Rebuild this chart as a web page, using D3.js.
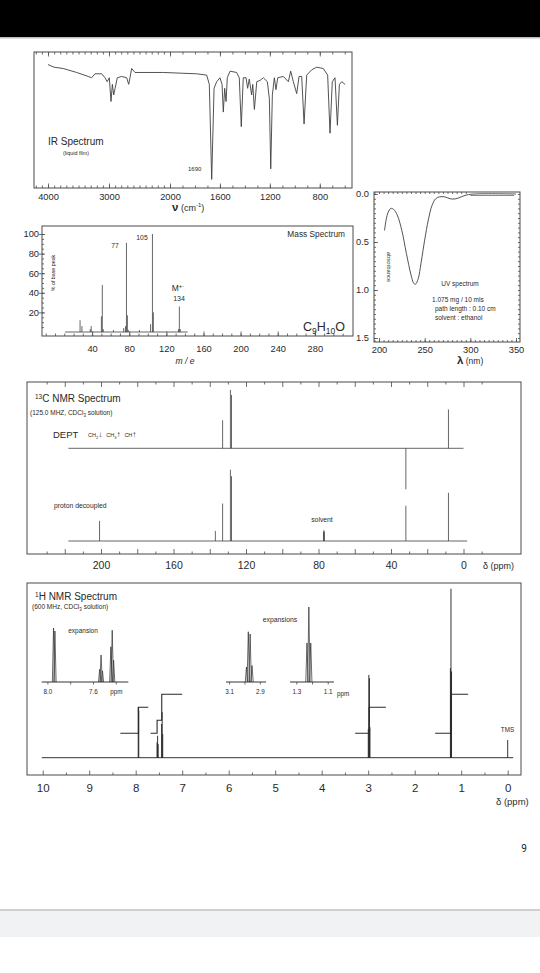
<!DOCTYPE html>
<html lang="en">
<head>
<meta charset="utf-8">
<title>Spectra problem 9</title>
<script src="https://cdnjs.cloudflare.com/ajax/libs/d3/7.8.5/d3.min.js"></script>
<style>
  body { margin: 0; background: #fff; }
  svg { display: block; font-family: "Liberation Sans", Arial, sans-serif; }
  .frame { fill: none; stroke: #4a4a4a; stroke-width: 1; }
  .trace { fill: none; stroke: #404040; stroke-width: 0.9; }
  .peak { stroke: #404040; stroke-width: 0.8; }
  .hpeak { stroke: #1e1e1e; stroke-width: 0.9; }
  .integral { fill: none; stroke: #2a2a2a; stroke-width: 1.1; }
  text { fill: #2a2a2a; }
</style>
</head>
<body>
<svg id="page" width="540" height="973"></svg>
<script>

// IR (liquid film): wavenumber cm-1 / transmittance %
var irWavenumber = [4000, 3900, 3750, 3530, 3340, 3285, 3230, 3120, 3065, 3030, 2995, 2967, 2945, 2923, 2900, 2864, 2792, 2710, 2677, 2656,
                    2628, 2574, 2110, 1786, 1706, 1685, 1666, 1647, 1626, 1600, 1583, 1573, 1562, 1551, 1541, 1519, 1466, 1445, 1429, 1413,
                    1391, 1378, 1365, 1346, 1337, 1324, 1305, 1279, 1252, 1220, 1204, 1193, 1180, 1164, 1151, 1137, 1092, 1052, 1033, 1012,
                    985, 966, 945, 926, 905, 865, 825, 772, 737, 718, 700, 678, 659, 643, 624, 597];
var irTransmittance = [92, 90, 89, 86, 83, 82, 85, 85, 82, 79, 82, 64, 77, 69, 74, 82, 83, 82, 77, 82,
                       89, 86, 86, 85, 84, 77, 5, 74, 79, 82, 77, 56, 74, 64, 82, 87, 86, 82, 45, 82,
                       82, 74, 81, 69, 77, 58, 79, 80, 82, 79, 66, 13, 69, 82, 73, 82, 83, 79, 87, 79,
                       70, 83, 83, 47, 84, 88, 90, 89, 84, 40, 79, 82, 46, 77, 79, 77];
var irTicks = [4000, 3000, 2000, 1600, 1200, 800];

// mass spectrum: m/e / % of base peak
var msMass      = [27, 29, 38, 39, 50, 51, 52, 63, 74, 76, 77, 78, 79, 91, 103, 105, 106, 133, 134, 135];
var msIntensity = [12, 6, 3, 6, 16, 48, 3, 2, 4, 6, 91, 17, 2, 2, 8, 100, 20, 3, 26, 3];
var msTicks = [40, 80, 120, 160, 200, 240, 280];
var msYTicks = [20, 40, 60, 80, 100];

// UV spectrum: wavelength nm / absorbance
var uvWavelength = [206, 208, 210, 213, 216, 220, 225, 230, 235, 238, 240, 243, 246, 250, 254, 258, 262, 266, 272, 278, 284, 290, 296, 305, 350];
var uvAbsorbance = [0.38, 0.26, 0.19, 0.15, 0.16, 0.22, 0.38, 0.62, 0.84, 0.93, 0.94, 0.88, 0.72, 0.48, 0.27, 0.12, 0.05, 0.03, 0.03, 0.05, 0.05, 0.03, 0.01, 0.0, 0.0];
var uvXTicks = [200, 250, 300, 350];
var uvYTicks = [0, 0.5, 1.0, 1.5];

// 13C NMR: shift ppm, proton decoupled and DEPT heights
var cShift     = [200.8, 136.9, 132.9, 128.6, 128.0, 31.8, 8.3];
var cDecoupled = [28, 14, 52, 99, 90, 49, 67];
var cDept      = [0, 0, 39, 81, 74, -57, 54];
var cSolventShift = [77.25, 77.0, 76.75];
var cSolventHeight = [13, 15, 13];
var cTicks = [200, 160, 120, 80, 40, 0];

// 1H NMR: line positions ppm / heights
var hShift     = [7.946, 7.934, 7.541, 7.529, 7.517, 7.443, 7.431, 7.419, 2.998, 2.986, 2.974, 2.962, 1.232, 1.220, 1.208, 0.0];
var hIntensity = [30, 28, 9, 13, 8, 20, 27, 14, 17, 49, 47, 18, 53, 100, 51, 10.5];
var hTicks = [10, 9, 8, 7, 6, 5, 4, 3, 2, 1, 0];
// integration: left end, right end, steps [ppm, protons]
var hIntLeft  = [8.33, 7.68, 3.28, 1.56];
var hIntRight = [7.73, 7.00, 2.62, 0.85];
var hIntSteps = [[[7.94, 2]], [[7.54, 1], [7.44, 2]], [[2.98, 2]], [[1.22, 3]]];

// expansions
var expArShift  = [7.946, 7.934, 7.541, 7.529, 7.517, 7.443, 7.431, 7.419];
var expArInt    = [72, 68, 17, 36, 15, 47, 69, 29];
var expCH2Shift = [2.987, 2.975, 2.963, 2.951];
var expCH2Int   = [20, 67, 64, 22];
var expCH3Shift = [1.232, 1.220, 1.208];
var expCH3Int   = [52, 100, 52];

var svg = d3.select("#page");

// page chrome
svg.append("rect").attr("x", 0).attr("y", 0).attr("width", 540).attr("height", 37).attr("fill", "#000");
svg.append("rect").attr("x", 0).attr("y", 37).attr("width", 540).attr("height", 1.5).attr("fill", "#bdbdbd");
svg.append("rect").attr("x", 0).attr("y", 909).attr("width", 540).attr("height", 2).attr("fill", "#cfcfcf");
svg.append("rect").attr("x", 0).attr("y", 911).attr("width", 540).attr("height", 26).attr("fill", "#f1f2f4");
svg.append("text").attr("x", 524).attr("y", 852).attr("text-anchor", "middle")
   .attr("font-family", "Roboto, sans-serif").attr("font-size", 10).style("fill", "#222").text("9");

function edgeAxis(parent, axis, transform, values, size, fmt, pad, fs) {
    axis.tickValues(values).tickSize(size).tickPadding(pad || 0)
        .tickFormat(fmt || function() { return ""; });
    var g = parent.append("g").attr("transform", transform).call(axis);
    g.select(".domain").remove();
    g.selectAll(".tick line").attr("stroke", "#4a4a4a").attr("stroke-width", 0.8);
    g.attr("font-family", null).attr("font-size", fs || 8);
    g.selectAll(".tick text").attr("fill", "#222");
    return g;
}

function label(parent, x, y, size, s) {
    return parent.append("text").attr("x", x).attr("y", y).attr("font-size", size).text(s || null);
}

// ---------------- IR ----------------
var ir = svg.append("g");
var irX = d3.scaleLinear().domain([4000, 2000, 550]).range([48, 170, 351]);
var irY = d3.scaleLinear().domain([0, 100]).range([186, 54]);

ir.append("rect").attr("class", "frame").attr("x", 34).attr("y", 52).attr("width", 318).attr("height", 136);
var irMinor = d3.range(4200, 550, -100);
edgeAxis(ir, d3.axisBottom(irX), "translate(0,188)", irMinor, -2.5);
edgeAxis(ir, d3.axisBottom(irX), "translate(0,188)", irTicks, -4.5, d3.format("d"), 5.5, 9.3);
edgeAxis(ir, d3.axisTop(irX), "translate(0,52)", irMinor, -2.5);
edgeAxis(ir, d3.axisTop(irX), "translate(0,52)", irTicks, -4.5);

var irLine = d3.line().x(function(d) { return irX(d[0]); }).y(function(d) { return irY(d[1]); });
ir.append("path").attr("class", "trace").attr("d", irLine(d3.zip(irWavenumber, irTransmittance)));

label(ir, 48, 145, 10, "IR Spectrum");
label(ir, 63, 155, 5.4, "(liquid film)");
label(ir, 188, 171, 6, "1690");
var nu = label(ir, 172, 211, 9);
nu.append("tspan").attr("font-size", 11.5).attr("font-weight", "bold").text("ν");
nu.append("tspan").text(" (cm");
nu.append("tspan").attr("font-size", 6).attr("dy", -4).text("-1");
nu.append("tspan").attr("dy", 4).text(")");

// ---------------- Mass ----------------
var ms = svg.append("g");
var msX = d3.scaleLinear().domain([0, 300]).range([55, 333.4]);
var msY = d3.scaleLinear().domain([0, 100]).range([332, 234]);

ms.append("rect").attr("class", "frame").attr("x", 42).attr("y", 226).attr("width", 311).attr("height", 110);
edgeAxis(ms, d3.axisBottom(msX), "translate(0,336)", d3.range(-10, 311, 10), -2.5);
edgeAxis(ms, d3.axisBottom(msX), "translate(0,336)", msTicks, -4.5, d3.format("d"), 9.5, 9.3);
edgeAxis(ms, d3.axisLeft(msY), "translate(42,0)", d3.range(5, 101, 5), -2);
edgeAxis(ms, d3.axisLeft(msY), "translate(42,0)", msYTicks, -3);
edgeAxis(ms, d3.axisLeft(msY), "translate(42,0)", msYTicks, 3, d3.format("d"), 0, 9.3);

ms.append("line").attr("class", "peak")
  .attr("x1", msX(10.8)).attr("x2", msX(143)).attr("y1", msY(0)).attr("y2", msY(0));
ms.selectAll("line.ms").data(d3.zip(msMass, msIntensity)).join("line")
  .attr("class", "peak ms")
  .attr("x1", function(d) { return msX(d[0]); }).attr("x2", function(d) { return msX(d[0]); })
  .attr("y1", msY(0)).attr("y2", function(d) { return msY(d[1]); });

label(ms, 115, 248, 6.8, "77").attr("text-anchor", "middle");
label(ms, 142, 240, 6.8, "105").attr("text-anchor", "middle");
var mplus = label(ms, 178, 291, 8.5).attr("text-anchor", "middle");
mplus.append("tspan").text("M");
mplus.append("tspan").attr("font-size", 6).attr("dy", -3).text("+·");
label(ms, 179, 300.5, 7, "134").attr("text-anchor", "middle");
label(ms, 345, 237, 8.3, "Mass Spectrum").attr("text-anchor", "end");
var formula = label(ms, 345, 331, 12.5).attr("text-anchor", "end");
formula.append("tspan").text("C");
formula.append("tspan").attr("font-size", 8.5).attr("dy", 3).text("9");
formula.append("tspan").attr("dy", -3).text("H");
formula.append("tspan").attr("font-size", 8.5).attr("dy", 3).text("10");
formula.append("tspan").attr("dy", -3).text("O");
label(ms, 185, 364, 8.5, "m / e").attr("text-anchor", "middle").attr("font-style", "italic");
label(ms, 0, 0, 5.3, "% of base peak").attr("text-anchor", "middle")
  .attr("transform", "translate(55,273) rotate(-90)");

// ---------------- UV ----------------
var uv = svg.append("g");
var uvX = d3.scaleLinear().domain([200, 350]).range([379, 516]);
var uvY = d3.scaleLinear().domain([0, 1.5]).range([194, 338]);

uv.append("rect").attr("class", "frame").attr("x", 374).attr("y", 192).attr("width", 146).attr("height", 150);
var uvMinorX = d3.range(195, 351, 5), uvMinorY = d3.range(0, 1.51, 0.05);
edgeAxis(uv, d3.axisBottom(uvX), "translate(0,342)", uvMinorX, -2);
edgeAxis(uv, d3.axisBottom(uvX), "translate(0,342)", uvXTicks, -4, d3.format("d"), 4, 9.3);
edgeAxis(uv, d3.axisTop(uvX), "translate(0,192)", uvMinorX.filter(function(v) { return v < 300; }), -2);
edgeAxis(uv, d3.axisLeft(uvY), "translate(374,0)", uvMinorY, -2);
edgeAxis(uv, d3.axisLeft(uvY), "translate(374,0)", uvYTicks, -4, d3.format(".1f"), 5, 9.3);
edgeAxis(uv, d3.axisRight(uvY), "translate(520,0)", uvMinorY, -2);
uv.append("line").attr("stroke", "#6a6a6a").attr("stroke-width", 0.8)
  .attr("x1", uvX(300)).attr("x2", uvX(348)).attr("y1", 195.5).attr("y2", 195.5);

var uvLine = d3.line().curve(d3.curveCatmullRom)
    .x(function(d) { return uvX(d[0]); }).y(function(d) { return uvY(d[1]); });
uv.append("path").attr("class", "trace").attr("stroke", "#555").attr("d", uvLine(d3.zip(uvWavelength, uvAbsorbance)));

label(uv, 0, 0, 5.8, "absorbance").attr("text-anchor", "middle").attr("transform", "translate(387,267) rotate(90)");
label(uv, 460, 286, 6.5, "UV spectrum").attr("text-anchor", "middle");
label(uv, 432, 301.5, 6.5, "1.075 mg / 10 mls");
label(uv, 435, 310.5, 6.5, "path length : 0.10 cm");
label(uv, 435, 320, 6.5, "solvent : ethanol");
var lam = label(uv, 457, 364, 8.5);
lam.append("tspan").attr("font-size", 11.5).attr("font-weight", "bold").text("λ");
lam.append("tspan").text(" (nm)");

// ---------------- 13C NMR ----------------
var cn = svg.append("g");
var cX = d3.scaleLinear().domain([200, 0]).range([101, 463.5]);
var cH = d3.scaleLinear().domain([0, 100]).range([0, 72]);
var deptBase = 448.3, decBase = 541;

cn.append("rect").attr("class", "frame").attr("x", 27).attr("y", 382).attr("width", 494).attr("height", 172);
var cMinor = d3.range(-10, 231, 10).filter(function(v) { return v % 20 !== 0; });
var cMajor = d3.range(0, 231, 20);
edgeAxis(cn, d3.axisBottom(cX), "translate(0,554)", cMinor, -2.5);
edgeAxis(cn, d3.axisBottom(cX), "translate(0,554)", cMajor, -5);
edgeAxis(cn, d3.axisBottom(cX), "translate(0,554)", cTicks, 0, d3.format("d"), 7.5, 10.5);
edgeAxis(cn, d3.axisTop(cX), "translate(0,382)", cMinor, -2.5);
edgeAxis(cn, d3.axisTop(cX), "translate(0,382)", cMajor, -5);

cn.append("line").attr("class", "peak").attr("x1", cX(218)).attr("x2", cX(0)).attr("y1", deptBase).attr("y2", deptBase);
cn.append("line").attr("class", "peak").attr("x1", cX(218)).attr("x2", cX(-2)).attr("y1", decBase).attr("y2", decBase);
var cData = d3.zip(cShift, cDecoupled, cDept);
cn.selectAll("line.dec").data(cData).join("line").attr("class", "peak dec")
  .attr("x1", function(d) { return cX(d[0]); }).attr("x2", function(d) { return cX(d[0]); })
  .attr("y1", decBase).attr("y2", function(d) { return decBase - cH(d[1]); });
cn.selectAll("line.dept").data(cData.filter(function(d) { return d[2] !== 0; })).join("line").attr("class", "peak dept")
  .attr("x1", function(d) { return cX(d[0]); }).attr("x2", function(d) { return cX(d[0]); })
  .attr("y1", deptBase).attr("y2", function(d) { return deptBase - cH(d[2]); });
cn.selectAll("line.solv").data(d3.zip(cSolventShift, cSolventHeight)).join("line").attr("class", "peak solv")
  .attr("x1", function(d) { return cX(d[0]); }).attr("x2", function(d) { return cX(d[0]); })
  .attr("y1", decBase).attr("y2", function(d) { return decBase - cH(d[1]); });

var ct = label(cn, 35, 402, 10);
ct.append("tspan").attr("font-size", 6.5).attr("dy", -3.5).text("13");
ct.append("tspan").attr("dy", 3.5).text("C NMR Spectrum");
var cs = label(cn, 30, 415, 6.5, "(125.0 MHZ, CDCl");
cs.append("tspan").attr("font-size", 4.5).attr("dy", 2).text("3");
cs.append("tspan").attr("dy", -2).text(" solution)");
label(cn, 53, 438, 9.5, "DEPT");
var dl = label(cn, 88, 437, 5.5);
[["CH", "2", "↓"], ["CH", "3", "↑"], ["CH", "", "↑"]].forEach(function(p, i) {
    dl.append("tspan").attr("dx", i ? 4 : 0).text(p[0]);
    if (p[1]) {
        dl.append("tspan").attr("font-size", 4).attr("dy", 1.5).text(p[1]);
        dl.append("tspan").attr("font-size", 8).attr("font-weight", "bold").attr("dy", -1.5).text(p[2]);
    } else {
        dl.append("tspan").attr("font-size", 8).attr("font-weight", "bold").text(p[2]);
    }
});
label(cn, 54, 508, 6.8, "proton decoupled");
label(cn, 322, 522, 6.8, "solvent").attr("text-anchor", "middle");
label(cn, 483, 569, 9, "δ (ppm)");

// ---------------- 1H NMR ----------------
var hn = svg.append("g");
var hX = d3.scaleLinear().domain([10, 0]).range([42.7, 507.7]);
var hY = d3.scaleLinear().domain([0, 100]).range([757.7, 588.7]);
var intBase = 24.5, perH = 13;

hn.append("rect").attr("class", "frame").attr("x", 27).attr("y", 583).attr("width", 494).attr("height", 192);
edgeAxis(hn, d3.axisBottom(hX), "translate(0,775)", d3.range(9.5, 0, -1), -2.5);
edgeAxis(hn, d3.axisBottom(hX), "translate(0,775)", hTicks, -4.5, d3.format("d"), 9, 11.5);

hn.append("line").attr("class", "hpeak").attr("stroke-width", 0.8)
  .attr("x1", hX(10.02)).attr("x2", hX(-0.12)).attr("y1", hY(0)).attr("y2", hY(0));
hn.selectAll("line.h").data(d3.zip(hShift, hIntensity)).join("line").attr("class", "hpeak h")
  .attr("x1", function(d) { return hX(d[0]); }).attr("x2", function(d) { return hX(d[0]); })
  .attr("y1", hY(0)).attr("y2", function(d) { return hY(d[1]); });

hIntSteps.forEach(function(steps, i) {
    var level = hY(0) - intBase;
    var p = d3.path();
    p.moveTo(hX(hIntLeft[i]), level);
    steps.forEach(function(s) {
        p.lineTo(hX(s[0]), level);
        level -= s[1] * perH;
        p.lineTo(hX(s[0]), level);
    });
    p.lineTo(hX(hIntRight[i]), level);
    hn.append("path").attr("class", "integral").attr("d", p.toString());
});

// expansions
var expY = d3.scaleLinear().domain([0, 100]).range([682, 607]);
function drawInset(xs, shifts, ints, tickVals, fmt) {
    var g = hn.append("g");
    var r = xs.range();
    g.append("line").attr("class", "hpeak").attr("stroke-width", 0.7)
     .attr("x1", r[0]).attr("x2", r[1]).attr("y1", expY(0)).attr("y2", expY(0));
    g.selectAll("path").data(d3.zip(shifts, ints)).join("path")
     .attr("fill", "none").attr("stroke", "#2a2a2a").attr("stroke-width", 0.7)
     .attr("d", function(d) {
         var x = xs(d[0]);
         return "M" + (x - 1.2) + "," + expY(0) + "L" + x + "," + expY(d[1]) + "L" + (x + 1.2) + "," + expY(0);
     });
    edgeAxis(g, d3.axisBottom(xs), "translate(0," + expY(0) + ")", tickVals, 2.5, fmt, 5, 6.3);
    return g;
}
var exp1X = d3.scaleLinear().domain([8.05, 7.29]).range([41.7, 128.3]);
var exp2X = d3.scaleLinear().domain([3.12, 2.86]).range([226, 266]);
var exp3X = d3.scaleLinear().domain([1.34, 1.06]).range([290, 334]);
drawInset(exp1X, expArShift, expArInt, [8.0, 7.8, 7.6, 7.4], function(v) {
    return v === 8.0 || v === 7.6 ? v.toFixed(1) : (v === 7.4 ? "ppm" : "");
});
drawInset(exp2X, expCH2Shift, expCH2Int, [3.1, 3.0, 2.9], function(v) { return v === 3.0 ? "" : v.toFixed(1); });
drawInset(exp3X, expCH3Shift, expCH3Int, [1.3, 1.2, 1.1], function(v) { return v === 1.2 ? "" : v.toFixed(1); });
label(hn, 337, 696, 6.3, "ppm");

var ht = label(hn, 35, 600, 10);
ht.append("tspan").attr("font-size", 6.5).attr("dy", -3.5).text("1");
ht.append("tspan").attr("dy", 3.5).text("H NMR Spectrum");
var hs = label(hn, 32, 609, 6.5, "(600 MHz, CDCl");
hs.append("tspan").attr("font-size", 4.5).attr("dy", 2).text("3");
hs.append("tspan").attr("dy", -2).text(" solution)");
label(hn, 83, 633, 6.5, "expansion").attr("text-anchor", "middle");
label(hn, 280, 622, 6.8, "expansions").attr("text-anchor", "middle");
label(hn, 507.5, 732, 6.3, "TMS").attr("text-anchor", "middle");
label(hn, 496, 805, 9.5, "δ (ppm)");

</script>
</body>
</html>
